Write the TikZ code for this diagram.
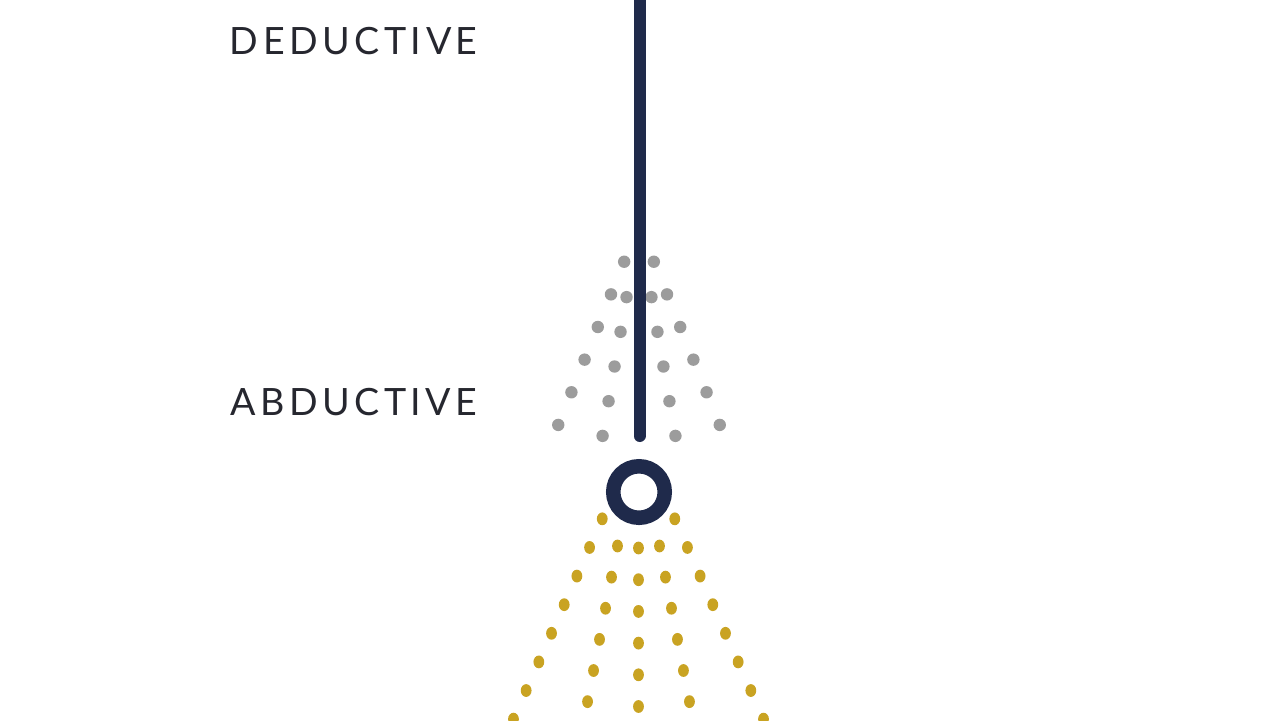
\documentclass[tikz,border=0pt]{standalone}
\usepackage{fontspec}
\usepackage{tikz}
\usetikzlibrary{positioning}
\newfontfamily\labelfont[LetterSpace=12]{Lato}
\definecolor{navy}{HTML}{1F2A4B}
\definecolor{dotgray}{HTML}{9C9C9C}
\definecolor{dotgold}{HTML}{C9A322}
\definecolor{ink}{HTML}{26272F}
\tikzset{
  label/.style={anchor=base east,inner sep=0pt,text=ink,font=\labelfont\fontsize{18.8}{22}\selectfont},
  graydot/.style={fill=dotgray},
  golddot/.style={fill=dotgold},
  stem/.style={draw=navy,line width=6pt,line cap=round},
  ring/.style={circle,draw=navy,line width=7.25pt,minimum size=25.75pt,inner sep=0pt}
}
\begin{document}
\begin{tikzpicture}[x=0.5pt,y=-0.5pt]
          \fill[white] (0,0) rectangle (1280,720);
          \useasboundingbox (0,0) rectangle (1280,720);
          \node[label] (ded) at (478,54.5) {DEDUCTIVE};
          \node[label] (abd) at (478,415.5) {ABDUCTIVE};
          %gray spray above
          \coordinate (go) at (639,225);
          \begin{scope}[shift={(go)}]
            \foreach \a in {-22,22}
              \foreach \k in {0,...,5}
                \fill[graydot] (90+\a:{39.6+35.2*\k}) circle (3.1pt);
            \foreach \a in {-9.8,9.8}
              \foreach \k in {0,...,4}
                \fill[graydot] (90+\a:{73.2+35.2*\k}) circle (3.1pt);
          \end{scope}
          %the line
          \coordinate (top) at (639.5,-20);
          \coordinate (bot) at (639.5,436);
          \draw[stem] (top) -- (bot);
          \node[ring] (o) at (639,492) {};
          %gold spray below
          \coordinate (yo) at (638.5,437);
          \begin{scope}[shift={(yo)}]
            \foreach \a in {-23.9,23.9}
              \foreach \k in {0,...,7}
                \fill[golddot] (90+\a:{89.5+31.3*\k}) ellipse (2.7pt and 3.2pt);
            \foreach \a in {-10.9,0,10.9}
              \foreach \k in {0,...,5}
                \fill[golddot] (90+\a:{111+31.7*\k}) ellipse (2.7pt and 3.2pt);
          \end{scope}
      \end{tikzpicture}
\end{document}
